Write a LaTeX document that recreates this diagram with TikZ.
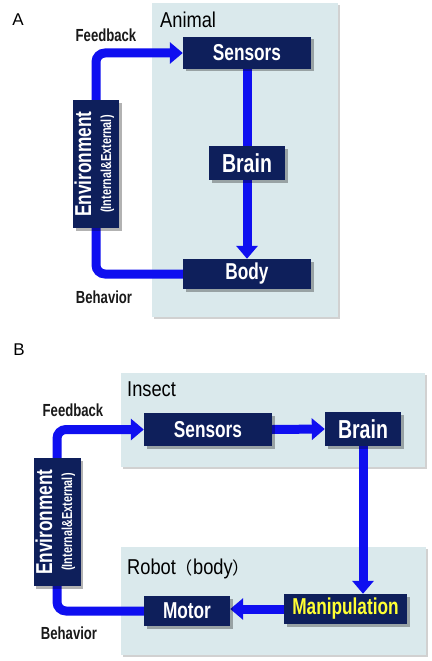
\documentclass[tikz,border=0pt]{standalone}
\usepackage{fontspec}
\setmainfont{Liberation Sans}[FakeStretch=0.85]
\newfontfamily\narrowfont{Liberation Sans}[FakeStretch=0.75]
\newfontfamily\plainfont{Liberation Sans}
\newfontfamily\cjkfont{Noto Sans CJK JP}[Scale=0.8]
\usetikzlibrary{arrows.meta,shadows}
\definecolor{navy}{HTML}{0E1F5B}
\definecolor{panelcol}{HTML}{DAE9EC}
\definecolor{flowblue}{HTML}{0F0FF0}
\definecolor{manipyellow}{HTML}{FFFF33}
\pgfdeclarelayer{back}
\pgfdeclarelayer{mid}
\pgfsetlayers{back,mid,main}
\tikzset{
  box/.style={fill=navy, text=white, inner sep=0pt, font=\narrowfont\fontsize{23}{25}\selectfont\bfseries,
    drop shadow={shadow xshift=2.5pt, shadow yshift=-2.5pt, fill=black, opacity=0.3}},
  bigbox/.style={box, font=\narrowfont\fontsize{26}{28}\selectfont\bfseries},
  panel/.style={fill=panelcol, inner sep=0pt,
    drop shadow={shadow xshift=2pt, shadow yshift=-2pt, fill=black, opacity=0.18}},
  flowline/.style={draw=flowblue, line width=9pt, rounded corners=9pt},
  flowarrow/.style={flowline, -{Triangle[width=21pt,length=13pt]}},
  sidelabel/.style={font=\narrowfont\fontsize{17.5}{19}\selectfont\bfseries, text=black!90},
  paneltitle/.style={font=\fontsize{21.5}{24}\selectfont, text=black, anchor=west, inner sep=0pt},
  letter/.style={font=\plainfont\fontsize{17}{19}\selectfont, text=black, inner sep=0pt},
}
\newcommand{\envtext}{\rotatebox{90}{\begin{tabular}{@{}c@{}}{\narrowfont\fontsize{23}{23}\selectfont\bfseries Environment}\\[-5pt]{\fontsize{14.5}{15}\selectfont (Internal\&External)}\end{tabular}}}
\begin{document}
\begin{tikzpicture}[x=1pt,y=-1pt]
\useasboundingbox (0,0) rectangle (431,661);
% ---------- panels ----------
\begin{pgfonlayer}{back}
\fill[white] (0,0) rectangle (431,661);
\node[panel, minimum width=186pt, minimum height=314pt] (animal) at (245,160) {};
\node[panel, minimum width=304pt, minimum height=94pt] (insect) at (273,420) {};
\node[panel, minimum width=305pt, minimum height=108pt] (robot) at (273.5,601) {};
\end{pgfonlayer}
% ---------- Panel A ----------
\node[letter] (labA) at (18,20) {A};
\node[paneltitle] (tanimal) at (160,20) {Animal};
\node[box, minimum width=128pt, minimum height=32pt] (sensA) at (247,53) {Sensors};
\node[bigbox, minimum width=76pt, minimum height=34pt] (brainA) at (247,163) {Brain};
\node[box, minimum width=128pt, minimum height=30pt] (bodyA) at (247,274) {Body};
\node[box, minimum width=46pt, minimum height=128pt] (envA) at (96,164) {\envtext};
\node[sidelabel] (fbA) at (106,35) {Feedback};
\node[sidelabel] (bhA) at (104,297) {Behavior};
% ---------- Panel B ----------
\node[letter] (labB) at (19,350) {B};
\node[paneltitle] (tinsect) at (127,389) {Insect};
\node[paneltitle] (trobot) at (127,569) {Robot{\cjkfont （}body{\cjkfont ）}};
\node[box, minimum width=128pt, minimum height=33pt] (sensB) at (208,429.5) {Sensors};
\node[bigbox, minimum width=76pt, minimum height=34pt] (brainB) at (363,429) {Brain};
\node[box, minimum width=86pt, minimum height=30pt] (motor) at (187,611) {Motor};
\node[box, minimum width=123pt, minimum height=30pt, text=manipyellow] (manip) at (345.5,609) {Manipulation};
\node[box, minimum width=47pt, minimum height=128pt] (envB) at (57,522) {\envtext};
\node[sidelabel] (fbB) at (73,410) {Feedback};
\node[sidelabel] (bhB) at (69,633) {Behavior};
% ---------- connectors ----------
\begin{pgfonlayer}{mid}
\draw[flowarrow] (envA.north) |- (sensA.west);
\draw[flowarrow] (sensA.south) -- (bodyA.north);
\draw[flowline] (envA.south) |- (bodyA.west);
\draw[flowarrow] (envB.north) |- (sensB.west);
\draw[flowarrow] (sensB.east) -- (brainB.west);
\draw[flowarrow] (brainB.south) -- (brainB.south |- manip.north);
\draw[flowarrow] (manip.west) -- (manip.west -| motor.east);
\draw[flowline] (motor.west) -| (envB.south);
\end{pgfonlayer}
\end{tikzpicture}
\end{document}
